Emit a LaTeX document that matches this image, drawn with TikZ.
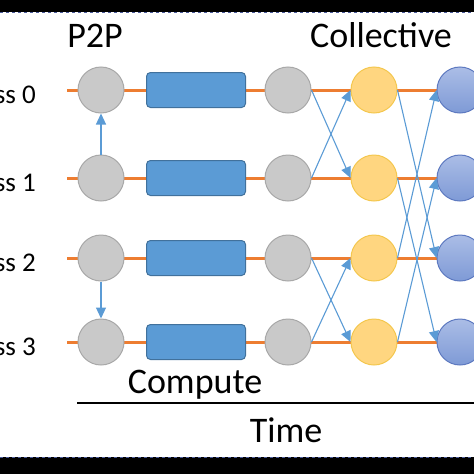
\documentclass[tikz,border=0pt]{standalone}
\usepackage{fontspec}
\setmainfont{Carlito}
\usetikzlibrary{arrows.meta}
\definecolor{timeOrange}{HTML}{ED7D31}
\definecolor{msgBlue}{HTML}{5B9BD5}
\definecolor{compBlue}{HTML}{5B9BD5}
\definecolor{compEdge}{HTML}{41719C}
\definecolor{waitGray}{HTML}{C9C9C9}
\definecolor{waitEdge}{HTML}{A8A8A8}
\definecolor{redYellow}{HTML}{FFD680}
\definecolor{redEdge}{HTML}{F4C74E}
\definecolor{resTop}{HTML}{ABBDE6}
\definecolor{resBot}{HTML}{7E9AD6}
\definecolor{resEdge}{HTML}{5D79C0}
\definecolor{barEdge}{HTML}{4A5A9A}

\begin{document}
\begin{tikzpicture}[x = 1pt, y = -1pt, > = {Triangle[length=11pt, width=10pt]},
    wait/.style = {circle, minimum size=46pt, inner sep=0pt, line width=1pt,
                   draw=waitEdge, fill=waitGray},
    reduce/.style = {circle, minimum size=46pt, inner sep=0pt, line width=1pt,
                     draw=redEdge, fill=redYellow},
    result/.style = {circle, minimum size=46pt, inner sep=0pt, line width=1pt,
                     draw=resEdge, top color=resTop, bottom color=resBot},
    compute/.style = {rectangle, rounded corners=4pt, minimum width=99pt,
                      minimum height=35pt, line width=1pt,
                      draw=compEdge, fill=compBlue},
    timeline/.style = {timeOrange, line width=3pt},
    msg/.style = {msgBlue, line width=1.1pt, ->},
    title/.style = {font=\fontsize{36}{42}\selectfont, anchor=base, inner sep=0pt},
    rank/.style = {font=\fontsize{27}{32}\selectfont, anchor=base east, inner sep=0pt}]

    \useasboundingbox (0, 0) rectangle (474, 474) ;
    \clip (0, 0) rectangle (474, 474) ;

    % black bars %
    \fill [black] (0, 0) rectangle (474, 12) ;
    \fill [black] (0, 457) rectangle (474, 474) ;
    \draw [barEdge, dashed, line width=0.6pt] (0, 12) -- (474, 12) ;
    \draw [barEdge, dashed, line width=0.6pt] (0, 457) -- (474, 457) ;

    % headings %
    \node [title] at (95, 47) (lbl-p2p) {P2P} ;
    \node [title] at (381, 47) (lbl-coll) {Collective} ;
    \node [title] at (195, 393) (lbl-comp) {Compute} ;
    \node [title] at (286, 442) (lbl-time) {Time} ;

    % time axis
    \draw [black, line width=2pt] (77, 403) -- (474, 403) ;

    % process lines %
    \draw [timeline] (67, 90) -- (474, 90) ;
    \draw [timeline] (67, 178) -- (474, 178) ;
    \draw [timeline] (67, 258) -- (474, 258) ;
    \draw [timeline] (67, 342) -- (474, 342) ;

    \node [rank] at (36, 103) (rank-0) {Process 0} ;
    \node [rank] at (36, 191) (rank-1) {Process 1} ;
    \node [rank] at (36, 271) (rank-2) {Process 2} ;
    \node [rank] at (36, 355) (rank-3) {Process 3} ;

    % process 0
    \node [wait] at (101, 90) (pa-0) {} ;
    \node [compute] at (196, 90) (cp-0) {} ;
    \node [wait] at (288, 90) (pb-0) {} ;
    \node [reduce] at (374, 90) (rd-0) {} ;
    \node [result] at (460, 90) (rs-0) {} ;

    % process 1
    \node [wait] at (101, 178) (pa-1) {} ;
    \node [compute] at (196, 178) (cp-1) {} ;
    \node [wait] at (288, 178) (pb-1) {} ;
    \node [reduce] at (374, 178) (rd-1) {} ;
    \node [result] at (460, 178) (rs-1) {} ;

    % process 2
    \node [wait] at (101, 258) (pa-2) {} ;
    \node [compute] at (196, 258) (cp-2) {} ;
    \node [wait] at (288, 258) (pb-2) {} ;
    \node [reduce] at (374, 258) (rd-2) {} ;
    \node [result] at (460, 258) (rs-2) {} ;

    % process 3
    \node [wait] at (101, 342) (pa-3) {} ;
    \node [compute] at (196, 342) (cp-3) {} ;
    \node [wait] at (288, 342) (pb-3) {} ;
    \node [reduce] at (374, 342) (rd-3) {} ;
    \node [result] at (460, 342) (rs-3) {} ;

    % point-to-point messages %
    \draw [msg] (pa-1) -- (pa-0) ;
    \draw [msg] (pa-2) -- (pa-3) ;

    % collective, first step %
    \draw [msg] (pb-0.east) -- (rd-1.west) ;
    \draw [msg] (pb-1.east) -- (rd-0.west) ;
    \draw [msg] (pb-2.east) -- (rd-3.west) ;
    \draw [msg] (pb-3.east) -- (rd-2.west) ;

    % collective, second step %
    \draw [msg] (rd-0.east) -- (rs-2.west) ;
    \draw [msg] (rd-1.east) -- (rs-3.west) ;
    \draw [msg] (rd-2.east) -- (rs-0.west) ;
    \draw [msg] (rd-3.east) -- (rs-1.west) ;

\end{tikzpicture}
\end{document}
